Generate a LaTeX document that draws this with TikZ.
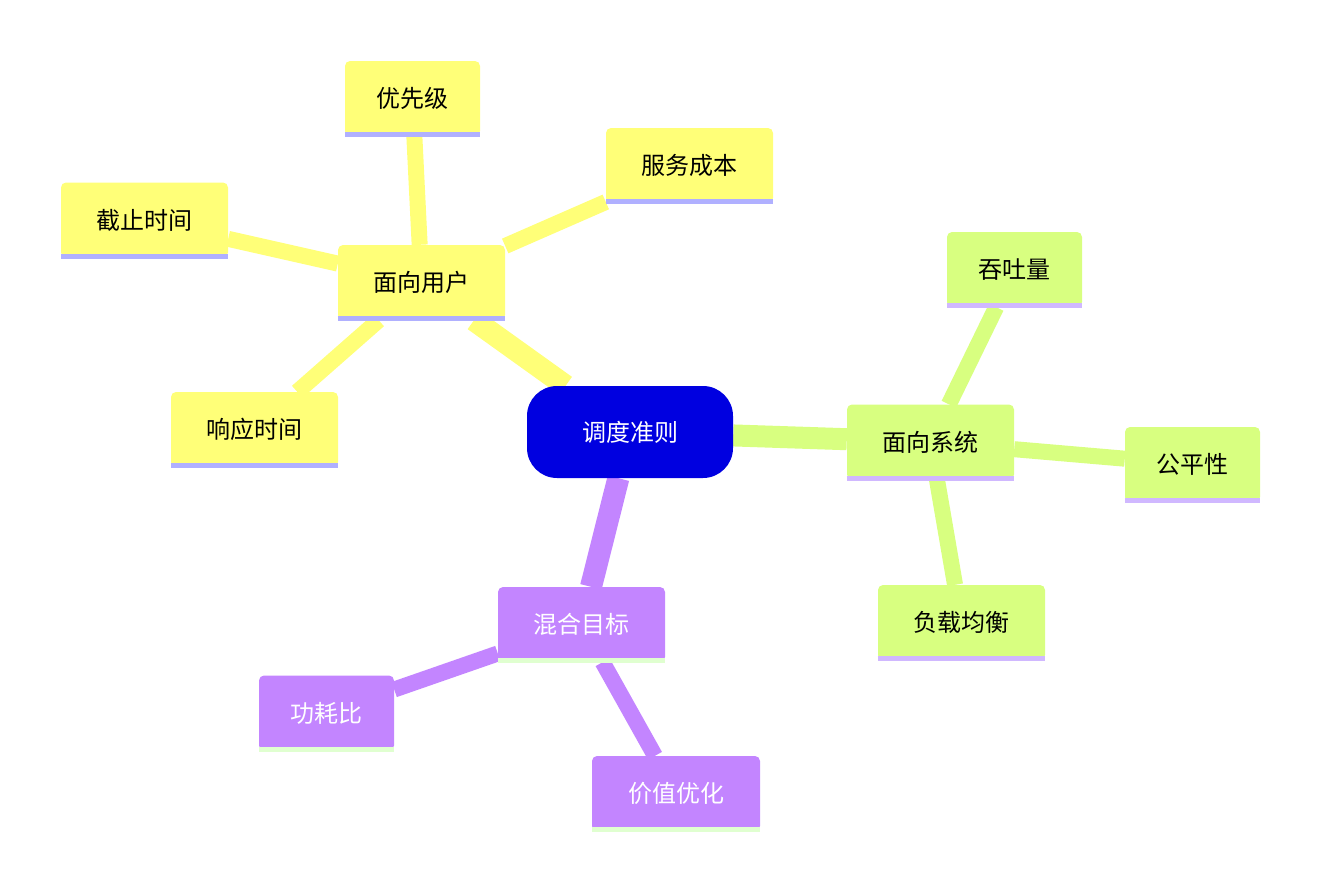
\documentclass[tikz,border=0pt]{standalone}
\usepackage{fontspec}
\setmainfont{Noto Sans CJK SC}
\usetikzlibrary{backgrounds}
\definecolor{yel}{HTML}{FFFF78}
\definecolor{yelu}{HTML}{B0B0FF}
\definecolor{grn}{HTML}{D8FF80}
\definecolor{grnu}{HTML}{D0B8FF}
\definecolor{pur}{HTML}{C385FF}
\definecolor{puru}{HTML}{E0FFD0}
\definecolor{rootc}{HTML}{0000E0}
\tikzset{
 leaf/.style={rounded corners=5pt,minimum width=#1,minimum height=75pt,inner sep=0pt,font=\fontsize{24}{28}\selectfont},
 ybox/.style={leaf=#1,fill=yel,text=black},
 gbox/.style={leaf=#1,fill=grn,text=black},
 pbox/.style={leaf=#1,fill=pur,text=white},
 edgeY/.style={draw=yel,line width=#1},
 edgeG/.style={draw=grn,line width=#1},
 edgeP/.style={draw=pur,line width=#1},
}
\newcommand{\uline}[2]{\fill[#2] ([yshift=-1pt]#1.south west) rectangle ([yshift=4pt]#1.south east);}
\begin{document}
\begin{tikzpicture}[x=1pt,y=-1pt]
\useasboundingbox (0,0) rectangle (1321,889);
\node[fill=rootc,text=white,rounded corners=30pt,minimum width=206pt,minimum height=92pt,font=\fontsize{24}{28}\selectfont] (root) at (630,432) {调度准则};
\node[ybox=167pt] (u) at (421.5,282.5) {面向用户};
\node[ybox=135pt] (u1) at (412.5,98.5) {优先级};
\node[ybox=167pt] (u2) at (689.5,165.5) {服务成本};
\node[ybox=167pt] (u3) at (144.5,220) {截止时间};
\node[ybox=167pt] (u4) at (254.5,429.5) {响应时间};
\node[gbox=167pt] (s) at (930.5,442) {面向系统};
\node[gbox=135pt] (s1) at (1014.5,269.5) {吞吐量};
\node[gbox=135pt] (s2) at (1192.5,464.5) {公平性};
\node[gbox=167pt] (s3) at (961.5,622.5) {负载均衡};
\node[pbox=167pt] (m) at (581.5,624.5) {混合目标};
\node[pbox=135pt] (m1) at (326.5,713) {功耗比};
\node[pbox=168pt] (m2) at (676,793.5) {价值优化};
\foreach \n in {u,u1,u2,u3,u4}{\uline{\n}{yelu}}
\foreach \n in {s,s1,s2,s3}{\uline{\n}{grnu}}
\foreach \n in {m,m1,m2}{\uline{\n}{puru}}
\begin{scope}[on background layer]
\draw[edgeY=22pt] (root) -- (u);
\draw[edgeG=22pt] (root) -- (s);
\draw[edgeP=22pt] (root) -- (m);
\draw[edgeY=16pt] (u) -- (u1);
\draw[edgeY=16pt] (u) -- (u2);
\draw[edgeY=16pt] (u) -- (u3);
\draw[edgeY=16pt] (u) -- (u4);
\draw[edgeG=16pt] (s) -- (s1);
\draw[edgeG=16pt] (s) -- (s2);
\draw[edgeG=16pt] (s) -- (s3);
\draw[edgeP=16pt] (m) -- (m1);
\draw[edgeP=16pt] (m) -- (m2);
\end{scope}
\end{tikzpicture}
\end{document}
